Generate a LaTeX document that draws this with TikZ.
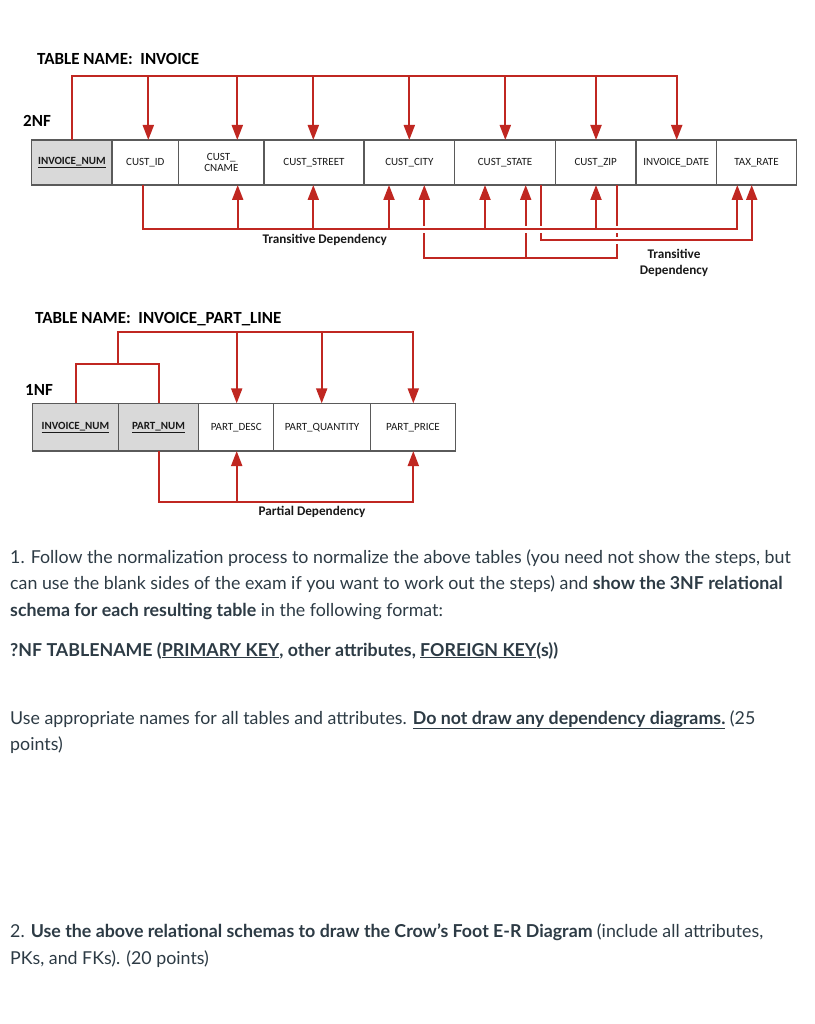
\documentclass[tikz,border=0pt]{standalone}
\usepackage{fontspec}
\setmainfont{Lato}
\newfontfamily\calfont{Carlito}
\usetikzlibrary{arrows.meta}
\definecolor{depred}{RGB}{192,39,33}
\definecolor{cellborder}{RGB}{90,90,90}
\definecolor{keyfill}{RGB}{217,217,217}
\definecolor{bodytext}{RGB}{45,59,69}
\definecolor{celltext}{RGB}{25,25,25}
\begin{document}
\begin{tikzpicture}[x=1pt,y=-1pt,
 cell/.style={draw=cellborder, line width=1.2pt, minimum height=45pt, inner sep=0pt, outer sep=0pt, anchor=west, font=\calfont\fontsize{11}{11.7}\selectfont, text=celltext, align=center},
 keycell/.style={cell, fill=keyfill},
 dep/.style={draw=depred, line width=2pt},
 deparrow/.style={dep, -{Triangle[width=11pt,length=15pt]}},
 halo/.style={draw=white, line width=7pt},
 title/.style={anchor=west, font=\calfont\bfseries\fontsize{17}{20}\selectfont, inner sep=0pt, text=black},
 deplabel/.style={font=\calfont\bfseries\fontsize{13.2}{16.7}\selectfont, align=center, inner sep=0pt, text=celltext},
 body/.style={anchor=base west, inner sep=0pt, text=bodytext, font=\fontsize{17.8}{20}\selectfont}
]
\useasboundingbox[fill=white] (0,0) rectangle (814,1024);

% ---------- INVOICE ----------
\node[title] (title1) at (37,59) {TABLE NAME:\ \ INVOICE};
\node[title] (nf2) at (23,121) {2NF};

\node[keycell, minimum width=80.3pt] (inv) at (31.7,162.5) {\textbf{\underline{INVOICE\_NUM}}};
\node[cell, minimum width=66.7pt] (cid) at (inv.east) {CUST\_ID};
\node[cell, minimum width=85.3pt] (cname) at (cid.east) {CUST\_\\CNAME};
\node[cell, minimum width=100pt] (street) at (cname.east) {CUST\_STREET};
\node[cell, minimum width=90.7pt] (city) at (street.east) {CUST\_CITY};
\node[cell, minimum width=100.7pt] (state) at (city.east) {CUST\_STATE};
\node[cell, minimum width=80.6pt] (zip) at (state.east) {CUST\_ZIP};
\node[cell, minimum width=80.4pt] (date) at (zip.east) {INVOICE\_DATE};
\node[cell, minimum width=80.3pt] (tax) at (date.east) {TAX\_RATE};

% top dependency bar
\coordinate (tb0) at (71.7,76);
\coordinate (tb7) at (676.7,76);
\draw[deparrow] (inv.north -| tb0) -- (tb0) -- (tb7) -- (date.north -| tb7);
\foreach \n/\x/\c in {1/148.3/cid, 2/237.3/cname, 3/313.3/street, 4/409.3/city, 5/505.3/state, 6/596/zip}{
  \coordinate (tb\n) at (\x,76);
  \draw[deparrow] (tb\n) -- (\c.north -| tb\n);
}

% bottom line 3 (ZIP -> CITY, STATE)
\coordinate (b3s) at (616.7,258.3);
\coordinate (b3e) at (424.3,258.3);
\coordinate (b3m) at (525.7,258.3);
\draw[deparrow] (zip.south -| b3s) -- (b3s) -- (b3e) -- (city.south -| b3e);
\draw[deparrow] (b3m) -- (state.south -| b3m);

% bottom line 2 (STATE -> TAX_RATE)
\coordinate (b2s) at (540.7,240);
\coordinate (b2e) at (751.7,240);
\draw[halo] (b2s) -- (b2e);
\draw[deparrow] (state.south -| b2s) -- (b2s) -- (b2e) -- (tax.south -| b2e);

% bottom line 1 (CUST_ID -> ...)
\coordinate (b1s) at (142.7,229.5);
\coordinate (b1e) at (737.3,229.5);
\draw[halo] (b1s) -- (b1e);
\draw[deparrow] (cid.south -| b1s) -- (b1s) -- (b1e) -- (tax.south -| b1e);
\foreach \n/\x/\c in {1/237.7/cname, 2/313.3/street, 3/389/city, 4/485/state, 5/596/zip}{
  \coordinate (b1a\n) at (\x,229.5);
  \draw[deparrow] (b1a\n) -- (\c.south -| b1a\n);
}

\node[deplabel] (td1) at (324.7,239.5) {Transitive Dependency};
\node[deplabel] (td2) at (674,263) {Transitive\\Dependency};

% ---------- INVOICE_PART_LINE ----------
\node[title] (title2) at (35,319) {TABLE NAME:\ \ INVOICE\_PART\_LINE};
\node[title] (nf1) at (25,390) {1NF};

\node[keycell, minimum width=85.6pt, minimum height=47.7pt] (inv2) at (32.7,427.2) {\textbf{\underline{INVOICE\_NUM}}};
\node[keycell, minimum width=80.4pt, minimum height=47.7pt] (pn) at (inv2.east) {\textbf{\underline{PART\_NUM}}};
\node[cell, minimum width=75pt, minimum height=47.7pt] (desc) at (pn.east) {PART\_DESC};
\node[cell, minimum width=96.6pt, minimum height=47.7pt] (qty) at (desc.east) {PART\_QUANTITY};
\node[cell, minimum width=85.4pt, minimum height=47.7pt] (price) at (qty.east) {PART\_PRICE};

\coordinate (k1) at (76,364.3);
\coordinate (k2) at (158.7,364.3);
\coordinate (k3) at (118.3,364.3);
\coordinate (k4) at (118.3,332);
\coordinate (k5) at (413.3,332);
\draw[dep] (inv2.north -| k1) -- (k1) -- (k2) -- (pn.north -| k2);
\draw[deparrow] (k3) -- (k4) -- (k5) -- (price.north -| k5);
\foreach \n/\x/\c in {1/236.7/desc, 2/321.7/qty}{
  \coordinate (ka\n) at (\x,332);
  \draw[deparrow] (ka\n) -- (\c.north -| ka\n);
}

\coordinate (p1) at (158.7,501.7);
\coordinate (p2) at (413.3,501.7);
\coordinate (p3) at (236.7,501.7);
\draw[deparrow] (pn.south -| p1) -- (p1) -- (p2) -- (price.south -| p2);
\draw[deparrow] (p3) -- (desc.south -| p3);
\node[deplabel] (pd) at (312,512.3) {Partial Dependency};

% ---------- Questions ----------
\node[body] (q1a) at (10,563) {1. Follow the normalization process to normalize the above tables (you need not show the steps, but};
\node[body] (q1b) at (10,589.5) {can use the blank sides of the exam if you want to work out the steps) and \textbf{show the 3NF relational}};
\node[body] (q1c) at (10,616) {\textbf{schema for each resulting table} in the following format:};
\node[body] (q1d) at (10,656) {\textbf{?NF TABLENAME (\underline{PRIMARY KEY}, other attributes, \underline{FOREIGN KEY}(s))}};
\node[body] (q1e) at (10,724) {Use appropriate names for all tables and attributes. \textbf{\underline{Do not draw any dependency diagrams.}} (25};
\node[body] (q1f) at (10,750) {points)};
\node[body] (q2a) at (10,937) {2. \textbf{Use the above relational schemas to draw the Crow’s Foot E-R Diagram} (include all attributes,};
\node[body] (q2b) at (10,964) {PKs, and FKs). (20 points)};
\end{tikzpicture}
\end{document}
